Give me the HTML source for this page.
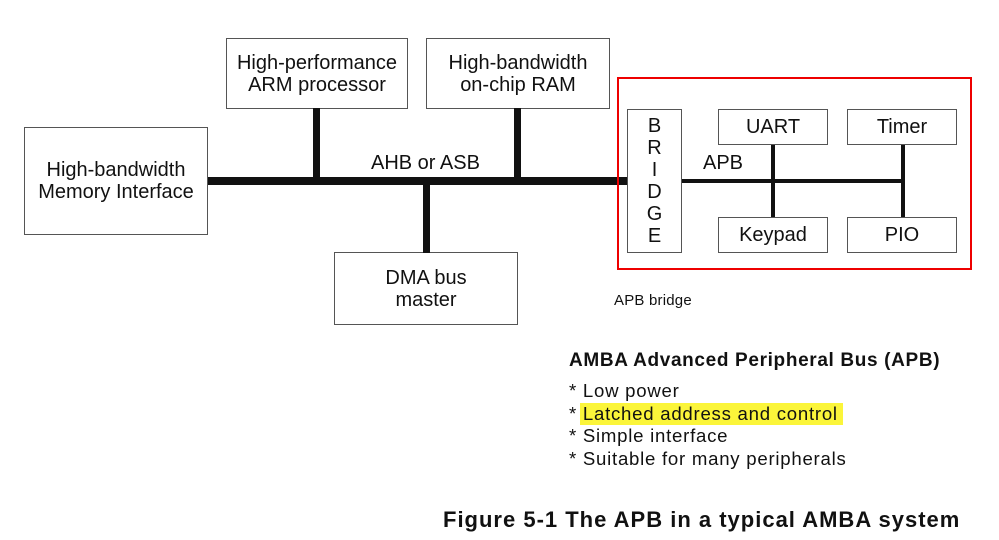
<!DOCTYPE html>
<html><head><style>
body{margin:0;width:999px;height:540px;background:#fff;position:relative;overflow:hidden;font-family:"Liberation Sans",Arial,sans-serif;color:#111}
.b{position:absolute;border:1.3px solid #555;box-sizing:border-box;display:flex;align-items:center;justify-content:center;text-align:center;font-size:20px;line-height:22px}
.l{position:absolute;background:#111}
.t{position:absolute;white-space:nowrap}
</style></head><body>
<div class="b" style="left:24px;top:127px;width:184px;height:108px">High-bandwidth<br>Memory Interface</div>
<div class="b" style="left:226px;top:38px;width:182px;height:71px">High-performance<br>ARM processor</div>
<div class="b" style="left:426px;top:38px;width:184px;height:71px">High-bandwidth<br>on-chip RAM</div>
<div class="b" style="left:334px;top:252px;width:184px;height:73px">DMA bus<br>master</div>
<div class="l" style="left:208px;top:177px;width:420px;height:8px"></div>
<div class="l" style="left:313px;top:108px;width:7px;height:72px"></div>
<div class="l" style="left:514px;top:108px;width:7px;height:72px"></div>
<div class="l" style="left:423px;top:182px;width:7px;height:71px"></div>
<div class="t" style="left:371px;top:152px;font-size:20px">AHB or ASB</div>

<div style="position:absolute;left:617px;top:77px;width:355px;height:193px;border:2px solid #e00;box-sizing:border-box"></div>
<div class="b" style="left:627px;top:109px;width:55px;height:144px;font-size:20px;line-height:22px">B<br>R<br>I<br>D<br>G<br>E</div>
<div class="b" style="left:718px;top:109px;width:110px;height:36px">UART</div>
<div class="b" style="left:847px;top:109px;width:110px;height:36px">Timer</div>
<div class="b" style="left:718px;top:217px;width:110px;height:36px">Keypad</div>
<div class="b" style="left:847px;top:217px;width:110px;height:36px">PIO</div>
<div class="l" style="left:682px;top:179px;width:222px;height:4px"></div>
<div class="l" style="left:771px;top:145px;width:4px;height:72px"></div>
<div class="l" style="left:901px;top:145px;width:4px;height:72px"></div>
<div class="t" style="left:703px;top:152px;font-size:20px">APB</div>
<div class="t" style="left:614px;top:292px;font-size:15px;letter-spacing:0.2px">APB bridge</div>

<div class="t" style="left:569px;top:350px;font-size:19px;font-weight:bold;letter-spacing:0.65px">AMBA Advanced Peripheral Bus (APB)</div>
<div style="position:absolute;left:580px;top:403px;width:263px;height:22px;background:#fbf53a"></div>
<div class="t" style="left:569px;top:380px;font-size:18.6px;line-height:22.7px;letter-spacing:0.75px">* Low power<br>* Latched address and control<br>* Simple interface<br>* Suitable for many peripherals</div>
<div class="t" style="left:443px;top:507px;font-size:22px;font-weight:bold;letter-spacing:1px">Figure 5-1 The APB in a typical AMBA system</div>
</body></html>
